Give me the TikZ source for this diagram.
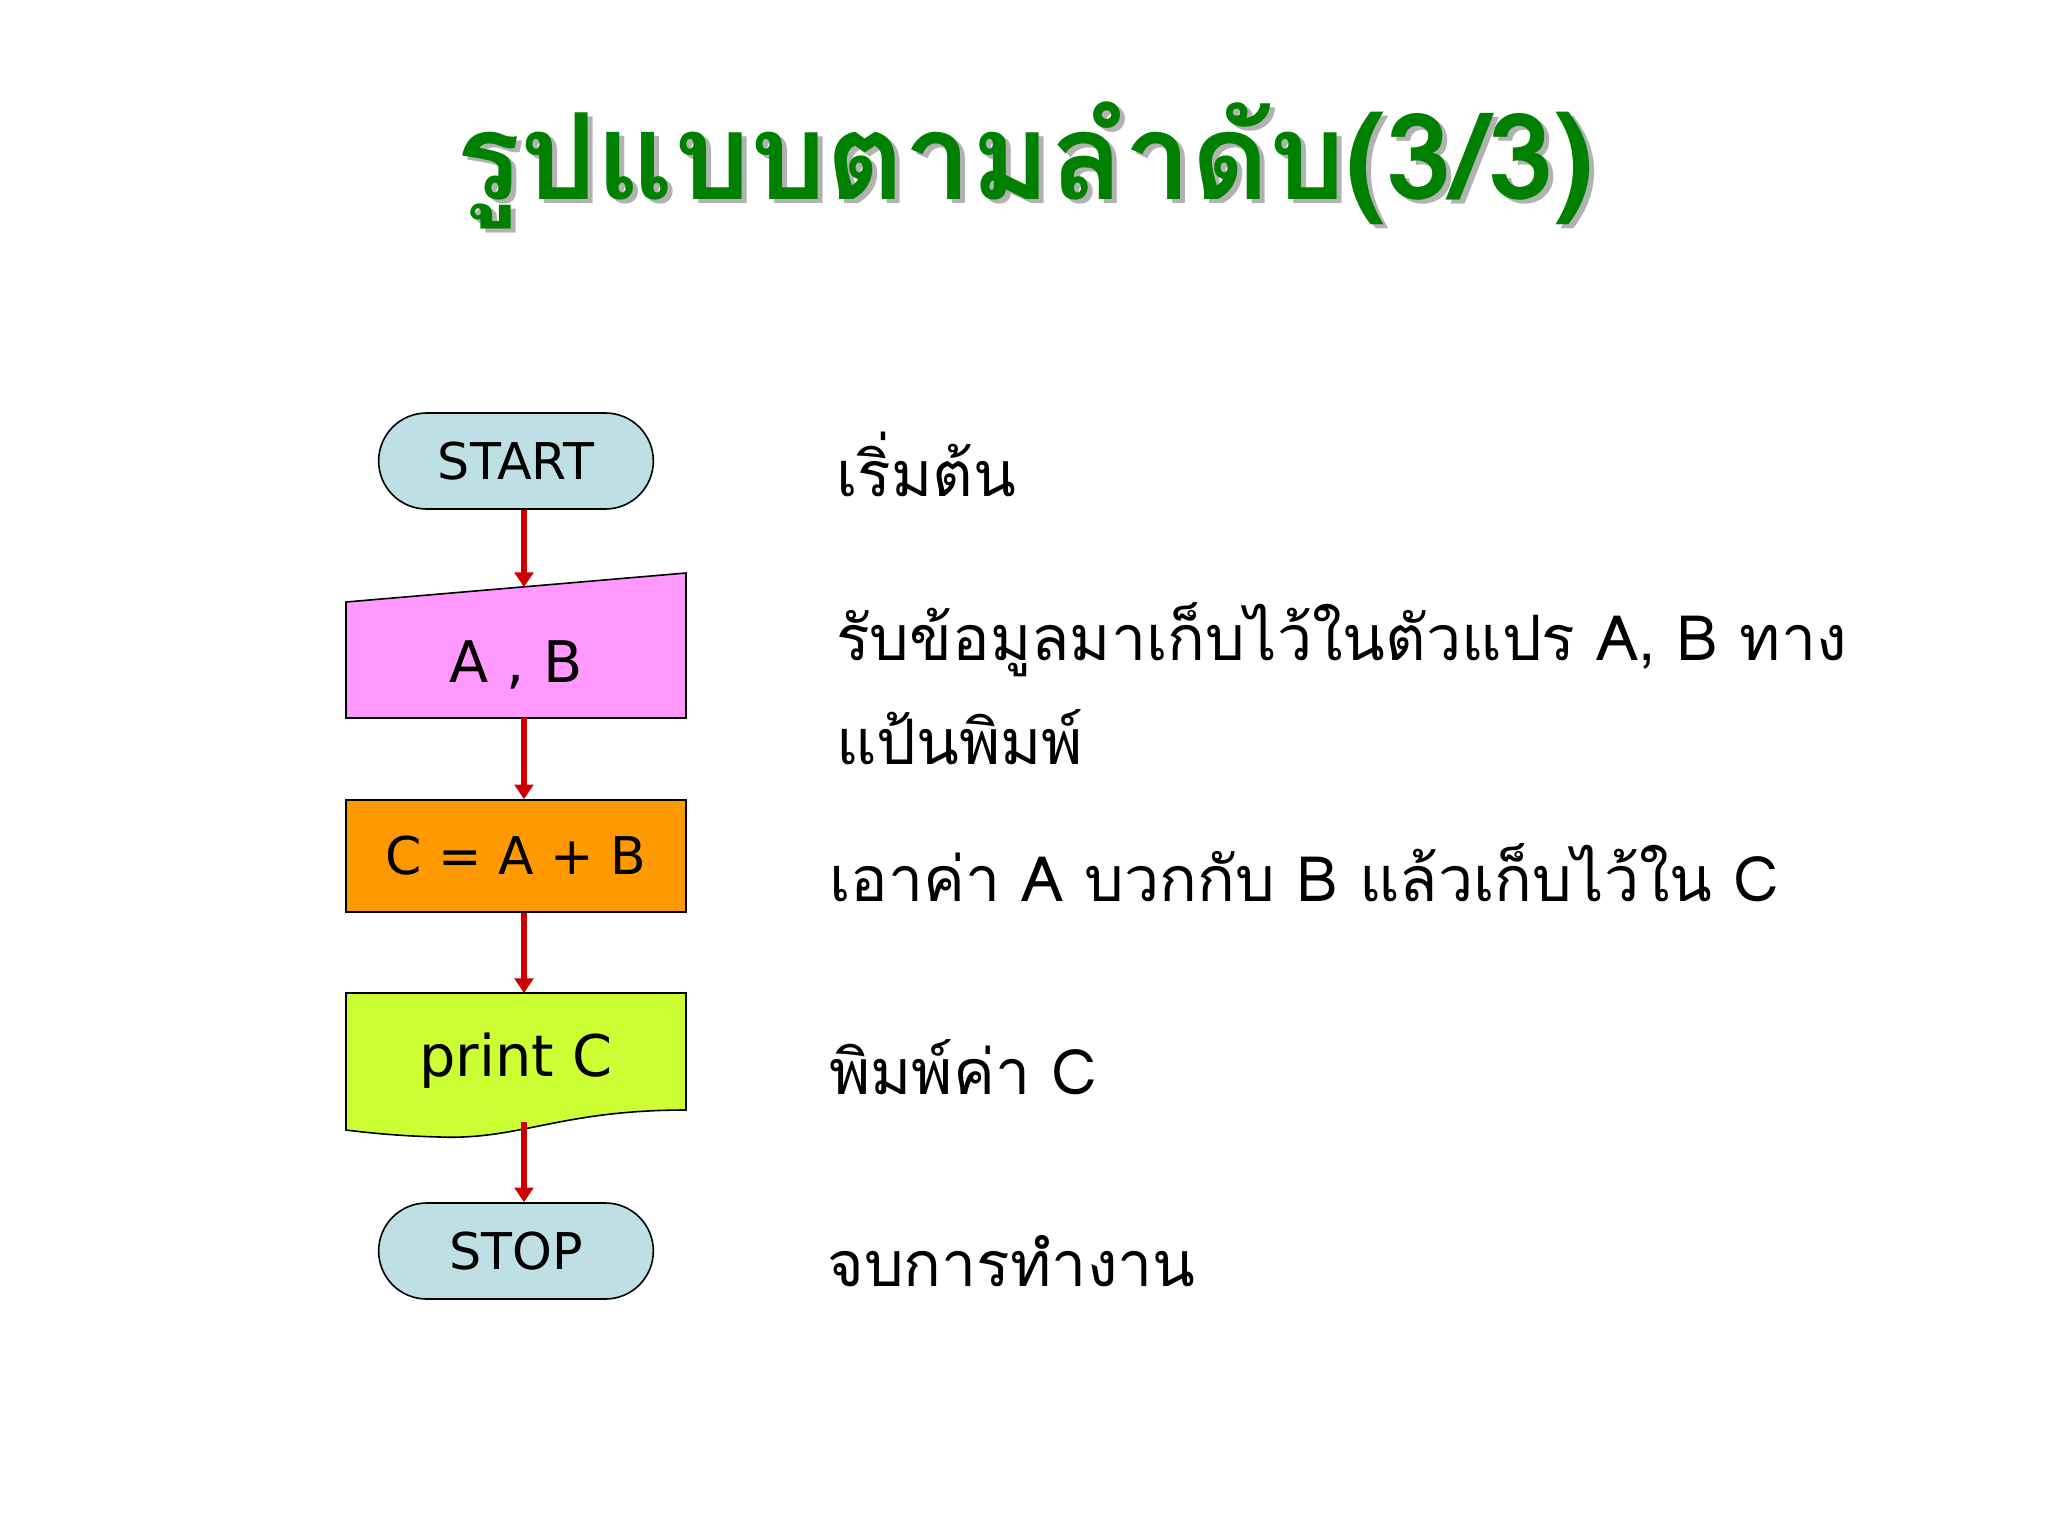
\documentclass[tikz,border=0pt]{standalone}
\usepackage{fontspec}
\setmainfont{DejaVu Sans}
\newfontfamily\thaifont[Script=Thai]{Loma}
\usetikzlibrary{arrows.meta,shapes.misc}
\definecolor{tgreen}{RGB}{0,128,0}
\definecolor{termfill}{RGB}{190,224,228}
\definecolor{infill}{RGB}{255,153,255}
\definecolor{procfill}{RGB}{255,153,0}
\definecolor{outfill}{RGB}{204,255,51}
\definecolor{flowred}{RGB}{204,0,0}
\tikzset{
  term/.style={rounded rectangle, draw=black, line width=1.2pt, fill=termfill,
    minimum width=206pt, minimum height=72pt, inner sep=0pt, font=\fontsize{38}{46}\selectfont},
  procbox/.style={rectangle, draw=black, line width=1.2pt, fill=procfill,
    minimum width=255pt, minimum height=84pt, inner sep=0pt, font=\fontsize{39}{46}\selectfont},
  shapeline/.style={draw=black, line width=1.2pt},
  boxtext/.style={inner sep=0pt, font=\fontsize{43}{50}\selectfont},
  flow/.style={draw=flowred, line width=3.8pt, -{Triangle[width=14pt,length=11pt]}, flowred},
  desc/.style={anchor=base west, inner sep=0pt, font=\thaifont\fontsize{47}{56}\selectfont},
  titletext/.style={anchor=base, inner sep=0pt, font=\thaifont\bfseries\fontsize{90}{100}\selectfont}
}
\begin{document}
\begin{tikzpicture}[x=0.75pt,y=-0.75pt]
\useasboundingbox (0,0) rectangle (2048,1536);
\fill[white] (0,0) rectangle (2048,1536);

% title with shadow
\node[titletext, text=black!30] at (1030,203) {รูปแบบตามลำดับ(3/3)};
\node[titletext, text=tgreen] (title) at (1025,199) {รูปแบบตามลำดับ(3/3)};

% START
\node[term] (start) at (516,461) {START};

% manual input
\path[shapeline, fill=infill] (346,602) -- (686,573) -- (686,718) -- (346,718) -- cycle;
\coordinate (abin) at (524,587);
\coordinate (about) at (524,718);
\node[boxtext] (ab) at (516,665) {A , B};

% process
\node[procbox] (calc) at (516,856) {C = A + B};

% output document
\path[shapeline, fill=outfill] (346,993) -- (686,993) -- (686,1110)
  .. controls (560,1110) and (520,1140) .. (440,1137)
  .. controls (400,1136) and (370,1133) .. (346,1130) -- cycle;
\coordinate (prin) at (524,993);
\coordinate (prout) at (524,1122);
\node[boxtext] (pr) at (516,1061) {print C};

% STOP
\node[term] (stop) at (516,1251) {STOP};

% connectors
\draw[flow] (start.south -| abin) -- (abin);
\draw[flow] (about) -- (about |- calc.north);
\draw[flow] (calc.south -| prin) -- (prin);
\draw[flow] (prout) -- (prout |- stop.north);

% descriptions
\node[desc] (d1) at (836,496) {เริ่มต้น};
\node[desc] (d2) at (836,660) {รับข้อมูลมาเก็บไว้ในตัวแปร A, B ทาง};
\node[desc] (d2b) at (836,764) {แป้นพิมพ์};
\node[desc] (d3) at (829,901) {เอาค่า A บวกกับ B แล้วเก็บไว้ใน C};
\node[desc] (d4) at (829,1094) {พิมพ์ค่า C};
\node[desc] (d5) at (827,1286) {จบการทำงาน};
\end{tikzpicture}
\end{document}
